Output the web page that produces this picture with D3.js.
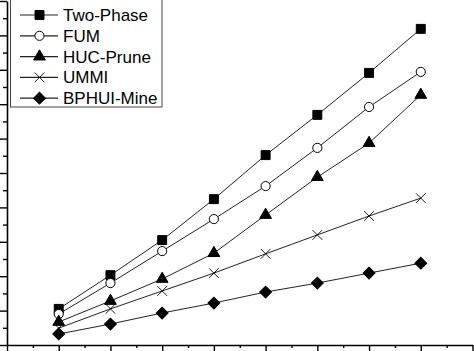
<!DOCTYPE html>
<html>
<head>
<meta charset="utf-8">
<script src="https://cdn.jsdelivr.net/npm/d3@7.9.0/dist/d3.min.js"></script>
<style>
  html, body { margin: 0; padding: 0; background: #fff; }
  svg { display: block; font-family: 'Liberation Sans', Arial, sans-serif; }
</style>
</head>
<body>
<svg id="chart" width="474" height="351"></svg>
<script>
// x positions are just the run index (1..8), the tick labels are cut off in the picture
const steps = [1, 2, 3, 4, 5, 6, 7, 8];

const seriesNames = ['Two-Phase', 'FUM', 'HUC-Prune', 'UMMI', 'BPHUI-Mine'];
const twoPhase = [105, 203, 305, 424, 552, 669, 791, 919];
const fum = [90, 180, 273, 366, 462, 573, 692, 794];
const hucPrune = [67, 128, 192, 267, 378, 488, 587, 727];
const ummi = [49, 105, 157, 209, 265, 320, 375, 427];
const bphuiMine = [32, 61, 93, 122, 154, 180, 209, 238];

const seriesValues = [twoPhase, fum, hucPrune, ummi, bphuiMine];

const yMajor = d3.range(0, 1001, 100);
const yMinor = d3.range(50, 1001, 100);
const xMajor = d3.range(0, 10, 1);
const xMinor = d3.range(0.5, 10, 1);

const width = 474;
const height = 351;
const plot = { left: 7, bottom: 345, top: 1, right: 472.5 };

const svg = d3.select('#chart');

const x = d3.scaleLinear().domain([0, 9]).range([plot.left, plot.right]);
const y = d3.scaleLinear().domain([0, 1000]).range([plot.bottom, plot.top]);

// marker per series
const markers = [
  { type: d3.symbolSquare, size: 80, fill: '#000', rotate: 0 },
  { type: d3.symbolCircle, size: 66, fill: '#fff', rotate: 0 },
  { type: d3.symbolTriangle, size: 60, fill: '#000', rotate: 0 },
  { type: d3.symbolTimes, size: 64, fill: 'none', rotate: 0 },
  { type: d3.symbolSquare, size: 70, fill: '#000', rotate: 45 },
];

function drawMarker(g, i, cx, cy) {
  const m = markers[i];
  g.append('path')
    .attr('d', d3.symbol(m.type, m.size)())
    .attr('transform', `translate(${cx},${cy}) rotate(${m.rotate})`)
    .attr('fill', m.fill)
    .attr('stroke', '#000')
    .attr('stroke-width', m.type === d3.symbolTimes ? 0.9 : 1);
}

// axes
const axisStyle = (g) => {
  g.select('.domain').attr('stroke', '#000').attr('stroke-width', 1.6);
  g.selectAll('.tick line').attr('stroke', '#000').attr('stroke-width', 1.4);
};

svg.append('g')
  .attr('transform', `translate(${plot.left},0)`)
  .call(d3.axisLeft(y).tickValues(yMajor).tickSize(7).tickSizeOuter(0).tickFormat(''))
  .call(axisStyle);
svg.append('g')
  .attr('transform', `translate(${plot.left},0)`)
  .call(d3.axisLeft(y).tickValues(yMinor).tickSize(4).tickSizeOuter(0).tickFormat(''))
  .call((g) => g.select('.domain').remove())
  .call(axisStyle);

svg.append('g')
  .attr('transform', `translate(0,${plot.bottom})`)
  .call(d3.axisBottom(x).tickValues(xMajor).tickSize(6).tickSizeOuter(0).tickFormat(''))
  .call(axisStyle);
svg.append('g')
  .attr('transform', `translate(0,${plot.bottom})`)
  .call(d3.axisBottom(x).tickValues(xMinor).tickSize(3).tickSizeOuter(0).tickFormat(''))
  .call((g) => g.select('.domain').remove())
  .call(axisStyle);

// lines
const line = d3.line()
  .x((d, i) => x(steps[i]))
  .y((d) => y(d));

svg.append('g')
  .selectAll('path')
  .data(seriesValues)
  .join('path')
  .attr('d', line)
  .attr('fill', 'none')
  .attr('stroke', '#222')
  .attr('stroke-width', 1);

// markers
seriesValues.forEach((vals, i) => {
  const g = svg.append('g');
  vals.forEach((v, j) => drawMarker(g, i, x(steps[j]), y(v)));
});

// legend
const legend = svg.append('g');
legend.append('rect')
  .attr('x', 10.5)
  .attr('y', -1)
  .attr('width', 151.5)
  .attr('height', 108)
  .attr('fill', '#fff')
  .attr('stroke', '#444')
  .attr('stroke-width', 1);

seriesNames.forEach((name, i) => {
  const cy = 15 + i * 20.8;
  legend.append('line')
    .attr('x1', 20).attr('x2', 58)
    .attr('y1', cy).attr('y2', cy)
    .attr('stroke', '#222')
    .attr('stroke-width', 1.2);
  drawMarker(legend, i, 39.5, cy);
  legend.append('text')
    .attr('x', 63)
    .attr('y', cy + 6)
    .attr('font-size', 17)
    .attr('fill', '#000')
    .text(name);
});
</script>
</body>
</html>
